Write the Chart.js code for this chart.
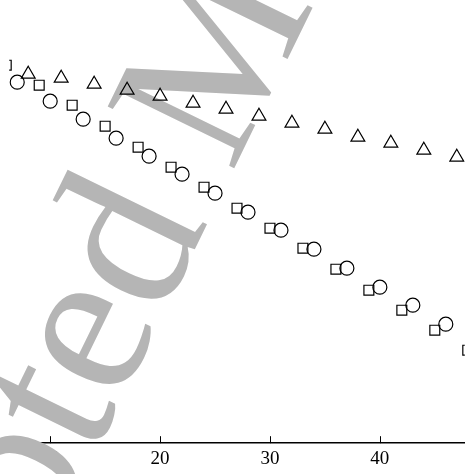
<!DOCTYPE html>
<html><head><meta charset="utf-8">
<script src="https://cdn.jsdelivr.net/npm/chart.js@4"></script>
<style>html,body{margin:0;padding:0;background:#fff}#w{width:474px;height:474px}</style>
</head><body><div id="w"><canvas id="c"></canvas></div>
<script>
const xTicks = [10, 20, 30, 40];
const triX = [8, 11, 14, 17, 20, 23, 26, 29, 32, 35, 38, 41, 44, 47];
const triY = [369, 365, 359, 353, 347, 340, 334, 327, 320, 314, 306, 300, 293, 286];
const sqX = [6, 9, 12, 15, 18, 21, 24, 27, 30, 33, 36, 39, 42, 45, 48];
const sqY = [378, 358, 338, 317, 296, 276, 256, 235, 215, 195, 174, 153, 133, 113, 93];
const ciX = [7, 10, 13, 16, 19, 22, 25, 28, 31, 34, 37, 40, 43, 46, 49];
const ciY = [361, 342, 324, 305, 287, 269, 250, 231, 213, 194, 175, 156, 138, 119, 100];

const pts = (xs, ys) => xs.map((x, i) => ({x, y: ys[i]}));
const watermark = {
  id: 'wm',
  beforeDatasetsDraw(chart) {
    const ctx = chart.ctx;
    ctx.save();
    ctx.fillStyle = '#b5b5b5';
    ctx.font = '215px "Liberation Serif"';
    ctx.textBaseline = 'alphabetic';
    ctx.translate(208, 222);
    ctx.rotate(-64 * Math.PI / 180);
    const a = 'Accepted';
    ctx.fillText(a, -ctx.measureText(a).width, 0);
    ctx.fillText(' Manuscript', 0, 0);
    ctx.restore();
  }
};
const ticksIn = {
  id: 'ti',
  afterDraw(chart) {
    const s = chart.scales.x, ctx = chart.ctx, y = chart.chartArea.bottom;
    ctx.save();
    ctx.strokeStyle = '#000'; ctx.lineWidth = 1;
    xTicks.forEach(v => {
      const px = Math.round(s.getPixelForValue(v)) + 0.5;
      ctx.beginPath(); ctx.moveTo(px, y); ctx.lineTo(px, y - 7); ctx.stroke();
    });
    ctx.restore();
  }
};
const common = {showLine: false, borderColor: '#000', backgroundColor: 'rgba(0,0,0,0)', borderWidth: 1.2, pointRadius: 7};
new Chart(document.getElementById('c'), {
  type: 'scatter',
  data: {datasets: [
    {...common, data: pts(triX, triY), pointStyle: 'triangle', pointRadius: 8},
    {...common, data: pts(sqX, sqY), pointStyle: 'rect', pointRadius: 7},
    {...common, data: pts(ciX, ciY), pointStyle: 'circle', pointRadius: 7}
  ]},
  options: {
    responsive: true, maintainAspectRatio: false, animation: false,
    layout: {padding: 0},
    plugins: {legend: {display: false}, tooltip: {enabled: false}},
    scales: {
      x: {type: 'linear', min: 6.27, max: 47.73,
        afterBuildTicks: sc => { sc.ticks = xTicks.map(v => ({value: v})); },
        grid: {drawOnChartArea: false, drawTicks: false},
        border: {color: '#000', width: 1.5},
        ticks: {color: '#000', font: {family: 'Liberation Serif', size: 19}, padding: 4}},
      y: {display: false, min: 0, max: 434}
    }
  },
  plugins: [watermark, ticksIn]
});
</script></body></html>
